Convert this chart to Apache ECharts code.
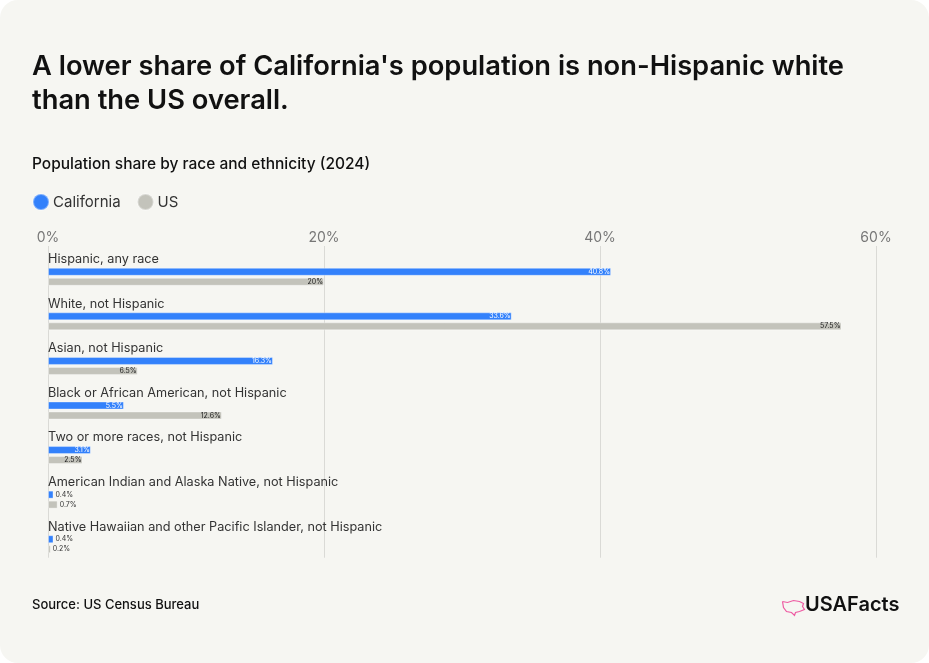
<!DOCTYPE html>
<html>
<head>
<meta charset="utf-8">
<script src="https://cdn.jsdelivr.net/npm/echarts@6/dist/echarts.min.js"></script>
<style>
html,body{margin:0;padding:0;background:#ffffff;}
#card{position:absolute;left:0;top:0;width:929px;height:663px;background:#f6f6f2;border-radius:18px;overflow:hidden;}
#chart{width:929px;height:663px;}
</style>
</head>
<body>
<div id="card"><div id="chart"></div></div>
<script>
const categories = [
  "Hispanic, any race",
  "White, not Hispanic",
  "Asian, not Hispanic",
  "Black or African American, not Hispanic",
  "Two or more races, not Hispanic",
  "American Indian and Alaska Native, not Hispanic",
  "Native Hawaiian and other Pacific Islander, not Hispanic"
];
const californiaValues = [40.8, 33.6, 16.3, 5.5, 3.1, 0.4, 0.4];
const usValues = [20, 57.5, 6.5, 12.6, 2.5, 0.7, 0.2];
const seriesNames = ["California", "US"];
const axisTicks = [0, 20, 40, 60];

const FONT = "Inter";
const BLUE = "#3381fb";
const GRAY = "#c3c3bb";

function barData(vals, insideColor) {
  return vals.map(v => {
    const small = v < 1;
    return {
      value: v,
      label: {
        show: true,
        position: small ? "right" : "insideRight",
        distance: small ? 2 : 1,
        color: small ? "#333333" : insideColor,
        fontSize: 7,
        fontFamily: FONT,
        formatter: p => p.value + "%"
      }
    };
  });
}

const chart = echarts.init(document.getElementById("chart"), null, {renderer: "canvas"});
const option = {
  backgroundColor: "transparent",
  animation: false,
  title: [
    {
      text: "A lower share of California's population is non-Hispanic white\nthan the US overall.",
      left: 32, top: 50, padding: 0,
      textStyle: {fontFamily: FONT, fontSize: 27.3, fontWeight: 600, color: "#111111", lineHeight: 34}
    },
    {
      text: "Population share by race and ethnicity (2024)",
      left: 32, top: 156, padding: 0,
      textStyle: {fontFamily: FONT, fontSize: 15.5, fontWeight: 500, color: "#111111"}
    },
    {
      text: "Source: US Census Bureau",
      left: 32, top: 599, padding: 0,
      textStyle: {fontFamily: FONT, fontSize: 13, fontWeight: 500, color: "#111111"}
    }
  ],
  legend: {
    left: 32, top: 193, padding: 0,
    icon: "circle",
    itemWidth: 16, itemHeight: 16,
    itemGap: 16,
    textStyle: {fontFamily: FONT, fontSize: 15, color: "#333333", padding: [0,0,0,-1]},
    data: seriesNames
  },
  grid: [
    {left: 48, right: 53, top: 254.5, height: 312, containLabel: false},
    {left: 48, right: 53, top: 246, height: 311.7, containLabel: false}
  ],
  xAxis: [
    {gridIndex: 0, type: "value", min: 0, max: 60, interval: 20, show: false},
    {
      gridIndex: 1, type: "value", min: 0, max: 60, interval: 20, position: "top",
      axisLine: {show: false}, axisTick: {show: false},
      axisLabel: {fontFamily: FONT, fontSize: 14, color: "#777777", margin: 1, formatter: v => v + "%"},
      splitLine: {show: true, lineStyle: {color: "#dadad6", width: 1}}
    }
  ],
  yAxis: [
    {
      gridIndex: 0, type: "category", data: categories, inverse: true,
      axisLine: {show: false}, axisTick: {show: false}, splitLine: {show: false},
      axisLabel: {
        inside: true, margin: 0, align: "left", verticalAlign: "bottom",
        fontFamily: FONT, fontSize: 12.7, color: "#333333", lineHeight: 15,
        padding: [0, 0, 10, 0]
      },
      z: 5
    },
    {gridIndex: 1, type: "category", data: categories, show: false}
  ],
  series: [
    {
      name: seriesNames[0], type: "bar", xAxisIndex: 0, yAxisIndex: 0,
      barWidth: 8, barGap: "25%",
      itemStyle: {color: BLUE, borderColor: "rgba(255,255,255,0.35)", borderWidth: 1},
      data: barData(californiaValues, "#ffffff")
    },
    {
      name: seriesNames[1], type: "bar", xAxisIndex: 0, yAxisIndex: 0,
      barWidth: 8, barGap: "25%",
      itemStyle: {color: GRAY, borderColor: "rgba(255,255,255,0.35)", borderWidth: 1},
      data: barData(usValues, "#222222")
    }
  ],
  graphic: [
    {
      type: "polyline", left: 780, top: 598,
      shape: {points: [[0,1],[5,2],[11,0],[17,1],[21,3],[20,6],[22,9],[17,11],[13,12],[12,15],[9,12],[4,11],[1,7],[0,1]]},
      style: {stroke: "#ee5aa2", fill: null, lineWidth: 1.2}
    },
    {
      type: "text", left: 805, top: 595,
      style: {text: "USAFacts", fontFamily: FONT, fontSize: 20, fontWeight: 600, fill: "#111111"}
    }
  ]
};
chart.setOption(option);
</script>
</body>
</html>
